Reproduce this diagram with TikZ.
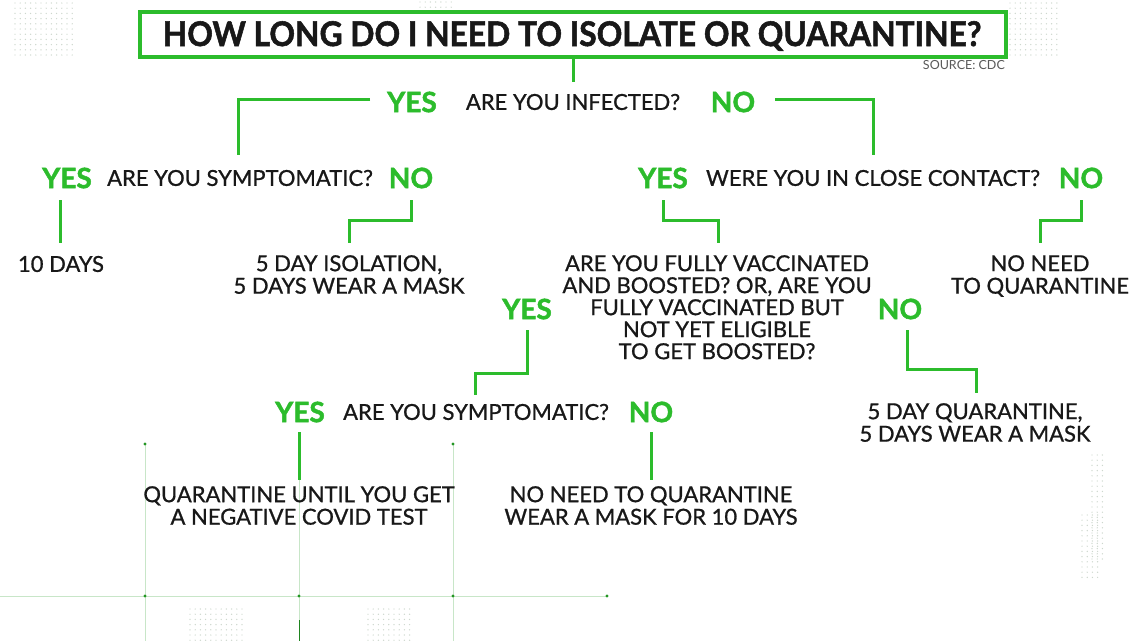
\documentclass[tikz,border=0pt]{standalone}
\usepackage{fontspec}
\setmainfont{Lato}[FakeBold=0.8]
\newfontfamily\body{Lato}[UprightFont=*, FakeBold=0.9]
\newfontfamily\heavy{Lato}[UprightFont=* Bold, FakeBold=1.6]
\newfontfamily\light{Lato}
\definecolor{cgreen}{RGB}{44,188,44}
\definecolor{ctext}{RGB}{24,24,24}
\definecolor{cfaint}{RGB}{200,230,200}
\definecolor{cdot}{RGB}{205,215,205}
\tikzset{
  q/.style={inner sep=0pt, text=ctext, font=\body\fontsize{22}{22}\selectfont, align=center},
  res/.style={inner sep=0pt, text=ctext, font=\body\fontsize{22}{22.5}\selectfont, align=center},
  yn/.style={inner sep=0pt, text=cgreen, font=\heavy\fontsize{28}{28}\selectfont},
  conn/.style={draw=cgreen, line width=3pt},
  bgline/.style={draw=cfaint, line width=0.8pt},
  bgdot/.style={fill=cgreen!80!black, draw=none},
}
\newcommand{\dotgrid}[4]{%
  \foreach \i in {0,...,#3}{\foreach \j in {0,...,#4}{%
    \fill[cdot] (#1+5.2*\i,#2+5.2*\j) circle (0.7pt);}}}
\begin{document}
\begin{tikzpicture}[x=1pt,y=-1pt]
\useasboundingbox (0,0) rectangle (1140,641);
\fill[white] (0,0) rectangle (1140,641);
% faint dot grids
\dotgrid{15}{3}{11}{10}
\dotgrid{1010}{3}{9}{10}
\dotgrid{1092}{455}{2}{20}
\dotgrid{1082}{515}{3}{12}
\dotgrid{190}{609}{10}{6}
\dotgrid{368}{609}{8}{6}
\dotgrid{420}{2}{6}{2}
% background lines
\draw[bgline] (145,444) -- (145,641);
\draw[bgline] (299,444) -- (299,641);
\draw[bgline] (453,444) -- (453,641);
\draw[bgline] (0,596) -- (607,596);
\foreach \p in {(145,444),(453,444),(145,596),(299,596),(453,596),(607,596)}
  \fill[bgdot] \p circle (1.6pt);
\draw[cgreen!70!black, line width=1pt] (299,620) -- (299,641);
% title
\node[draw=cgreen, line width=3.5pt, minimum width=866pt, minimum height=45pt, inner sep=0pt] (title) at (573,34.5) {};
\node[inner sep=0pt, text=ctext, font=\heavy\fontsize{34}{34}\selectfont] (ttext) at (572,36) {\scalebox{0.935}[1]{HOW LONG DO I NEED TO ISOLATE OR QUARANTINE?}};
\node[inner sep=0pt, text=black!65, font=\light\fontsize{12.5}{13}\selectfont, anchor=east] (src) at (1005,65) {SOURCE: CDC};
% row 1
\node[q] (q1) at (573,102) {ARE YOU INFECTED?};
\node[yn] (y1) at (412,102) {YES};
\node[yn] (n1) at (733,102) {NO};
% row 2
\node[q] (q2) at (240,178) {ARE YOU SYMPTOMATIC?};
\node[yn] (y2) at (67,178) {YES};
\node[yn] (n2) at (411,178) {NO};
\node[q] (q3) at (873,178) {WERE YOU IN CLOSE CONTACT?};
\node[yn] (y3) at (663,178) {YES};
\node[yn] (n3) at (1081,178) {NO};
% row 3
\node[res] (r1) at (61,264) {10 DAYS};
\node[res, anchor=north] (r2) at (349,255) {5 DAY ISOLATION,\\5 DAYS WEAR A MASK};
\node[q, anchor=north] (q4) at (717,255) {ARE YOU FULLY VACCINATED\\AND BOOSTED? OR, ARE YOU\\FULLY VACCINATED BUT\\NOT YET ELIGIBLE\\TO GET BOOSTED?};
\node[res, anchor=north] (r3) at (1040,255) {NO NEED\\TO QUARANTINE};
\node[yn] (y4) at (527,309) {YES};
\node[yn] (n4) at (900,309) {NO};
% row 4
\node[q] (q5) at (476,412) {ARE YOU SYMPTOMATIC?};
\node[yn] (y5) at (300,412) {YES};
\node[yn] (n5) at (651,412) {NO};
\node[res, anchor=north] (r4) at (975,403) {5 DAY QUARANTINE,\\5 DAYS WEAR A MASK};
\node[res, anchor=north] (r5) at (299,486) {QUARANTINE UNTIL YOU GET\\A NEGATIVE COVID TEST};
\node[res, anchor=north] (r6) at (651,486) {NO NEED TO QUARANTINE\\WEAR A MASK FOR 10 DAYS};
% connector end points
\coordinate (t0) at (573,82);
\coordinate (a1) at (370,99);   \coordinate (a2) at (238,155);
\coordinate (b1) at (775,99);   \coordinate (b2) at (873,155);
\coordinate (c1) at (60,200);   \coordinate (c2) at (60,243);
\coordinate (d1) at (411,200);  \coordinate (dm) at (349,220); \coordinate (d2) at (349,243);
\coordinate (e1) at (663,200);  \coordinate (em) at (718,220); \coordinate (e2) at (718,243);
\coordinate (f1) at (1081,200); \coordinate (fm) at (1040,220); \coordinate (f2) at (1040,243);
\coordinate (g1) at (527,330);  \coordinate (gm) at (475,373); \coordinate (g2) at (475,395);
\coordinate (h1) at (907,330);  \coordinate (hm) at (976,369); \coordinate (h2) at (976,393);
\coordinate (i1) at (299,432);  \coordinate (i2) at (299,480);
\coordinate (j1) at (651,432);  \coordinate (j2) at (651,480);
% connectors
\draw[conn] (title.south) -- (t0);
\draw[conn] (a1) -| (a2);
\draw[conn] (b1) -| (b2);
\draw[conn] (c1) -- (c2);
\draw[conn] (d1) |- (dm) -- (d2);
\draw[conn] (e1) |- (em) -- (e2);
\draw[conn] (f1) |- (fm) -- (f2);
\draw[conn] (g1) |- (gm) -- (g2);
\draw[conn] (h1) |- (hm) -- (h2);
\draw[conn] (i1) -- (i2);
\draw[conn] (j1) -- (j2);
\end{tikzpicture}
\end{document}
